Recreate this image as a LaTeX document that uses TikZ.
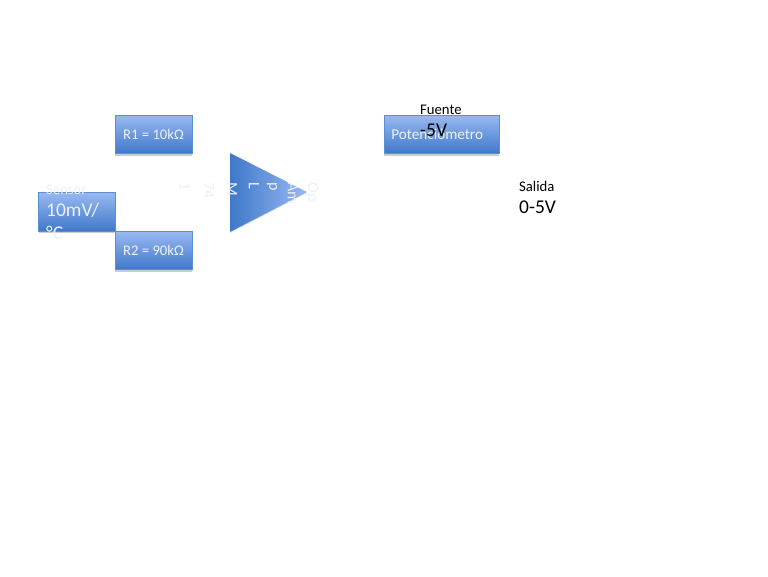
\documentclass[tikz,border=0pt]{standalone}
\usepackage{fontspec}
\setmainfont{Carlito}
\usetikzlibrary{shadows}
\definecolor{boxtop}{HTML}{98B9F2}
\definecolor{boxbottom}{HTML}{3F78C9}
\definecolor{boxline}{HTML}{5B8FD0}
\definecolor{paletext}{HTML}{EEF0F4}
\tikzstyle{block}=[draw=boxline,line width=0.8pt,top color=boxtop,bottom color=boxbottom,drop shadow={shadow xshift=0pt,shadow yshift=-2pt,opacity=0.4},minimum height=38.5pt,inner sep=0pt,text=paletext]
\tikzstyle{amp}=[draw=none,left color=boxbottom,right color=boxtop,drop shadow={shadow xshift=0pt,shadow yshift=-1pt,opacity=0.25}]
\tikzstyle{plain}=[inner sep=0pt,anchor=west,font=\fontsize{14.7}{16}\selectfont]
\tikzstyle{big}=[inner sep=0pt,anchor=west,font=\fontsize{19.5}{22}\selectfont]
\tikzstyle{vert}=[inner sep=0pt,text=paletext,rotate=-90,anchor=west,font=\fontsize{16}{18}\selectfont]
\begin{document}
\begin{tikzpicture}[x=1pt,y=-1pt]
    \useasboundingbox (0,0) rectangle (768,576);
    % First we draw the blocks
    \foreach \pos/\name/\txt in {{(153.5,134.5)/rone/R1 = 10kΩ}, {(153.5,250.5)/rtwo/R2 = 90kΩ}}
        \node[block,minimum width=77pt,font=\fontsize{14.7}{16}\selectfont] (\name) at \pos {\txt};
    \node[block,minimum width=115pt,text width=101pt,align=left,font=\fontsize{15.2}{16}\selectfont] (pot) at (441.8,134.5) {Potenciómetro};
    \node[block,minimum width=76.5pt,minimum height=39pt] (box) at (77,211.8) {};
    % Then the amplifier and its text
    \path[amp] (230,153) -- (307,192) -- (230,232) -- cycle;
    \foreach \x/\name/\txt in {312/lop/Op, 293/lam/Am, 272/lp/p, 254/ll/L, 232/lm/M, 209/lseven/74, 185/lone/1}
        \node[vert] (\name) at (\x,182.5) {\txt};
    % Sensor and source labels
    \node[plain,text=paletext] (sensor) at (46,189.5) {Sensor};
    \node[big,text=paletext] (mv) at (46,210) {10mV/};
    \node[big,text=paletext] (deg) at (46,232.5) {°C};
    \node[plain] (fuente) at (420,110) {Fuente};
    \node[big] (minus) at (420,130.5) {-5V};
    \node[plain] (salida) at (519,186.5) {Salida};
    \node[big] (out) at (519,207.5) {0-5V};
\end{tikzpicture}
\end{document}
